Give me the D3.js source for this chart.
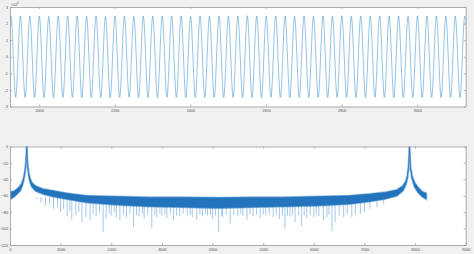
<!DOCTYPE html>
<html>
<head>
<meta charset="utf-8">
<script src="https://cdn.jsdelivr.net/npm/d3@7"></script>
<style>
body { margin: 0; background: #f0f0f0; }
svg { display: block; font-family: "Liberation Sans", Arial, sans-serif; }
</style>
</head>
<body>
<svg id="fig" width="474" height="254"></svg>
<script>
// ---- top plot: time signal, extrema ----
var waveX = [1913, 1925.5, 1938, 1950.5, 1963, 1975.5, 1988, 2000.5, 2013, 2025.5,
	2038, 2050.5, 2063, 2075.5, 2088, 2100.5, 2113, 2125.5, 2138, 2150.5,
	2163, 2175.5, 2188, 2200.5, 2213, 2225.5, 2238, 2250.5, 2263, 2275.5,
	2288, 2300.5, 2313, 2325.5, 2338, 2350.5, 2363, 2375.5, 2388, 2400.5,
	2413, 2425.5, 2438, 2450.5, 2463, 2475.5, 2488, 2500.5, 2513, 2525.5,
	2538, 2550.5, 2563, 2575.5, 2588, 2600.5, 2613, 2625.5, 2638, 2650.5,
	2663, 2675.5, 2688, 2700.5, 2713, 2725.5, 2738, 2750.5, 2763, 2775.5,
	2788, 2800.5, 2813, 2825.5, 2838, 2850.5, 2863, 2875.5, 2888, 2900.5,
	2913, 2925.5, 2938, 2950.5, 2963, 2975.5, 2988, 3000.5, 3013, 3025.5,
	3038, 3050.5, 3063, 3075.5, 3088, 3100.5, 3113, 3125.5, 3138];
var waveY = [-24500, 24600, -24400, 24600, -24500, 24500, -24600, 24600, -24500, 24400,
	-24500, 24600, -24500, 24500, -24400, 24600, -24600, 24500, -24500, 24600,
	-24500, 24400, -24600, 24600, -24500, 24500, -24400, 24300, -24500, 24600,
	-24600, 24500, -24500, 24600, -24400, 24500, -24500, 24600, -24600, 24400,
	-24500, 24600, -24500, 24500, -24400, 24600, -24600, 24500, -24500, 24600,
	-24500, 24700, -24600, 24600, -24500, 24500, -24400, 24600, -24500, 24500,
	-24600, 24400, -24500, 24600, -24500, 24500, -24400, 24600, -24600, 24500,
	-24500, 24600, -24500, 24400, -24600, 24600, -24500, 24500, -24400, 24600,
	-24500, 24500, -24600, 24600, -24500, 24400, -24500, 24600, -24500, 24500,
	-24400, 24600, -24600, 24500, -24500, 24600, -24500, 24500, -24500];
var sigXTicks = [2000, 2200, 2400, 2600, 2800, 3000];
var sigYTicks = [-30000, -20000, -10000, 0, 10000, 20000, 30000];

// ---- bottom plot: spectrum (dB) vs bin, as noise band + dips ----
var specBins = [0, 60, 120, 200, 240, 270, 295, 310, 320, 326,
	330, 334, 340, 350, 365, 390, 430, 500, 660, 850,
	1120, 1500, 2100, 2770, 3500, 4110, 4700, 5400, 6100, 6700,
	7100, 7400, 7640, 7760, 7820, 7850, 7870, 7884, 7890, 7896,
	7910, 7940, 7990, 8060, 8140, 8220];
var specHi = [-55, -55, -53, -48, -44, -38, -30, -22, -14, -6,
	2, -6, -14, -22, -30, -38, -44, -48, -52, -54,
	-57, -60, -61, -62, -62, -62.5, -62, -62, -61, -60,
	-58, -56, -53, -48, -42, -35, -25, -10, 2, -10,
	-25, -36, -44, -50, -55, -57];
var specLo = [-64, -62, -59, -54, -48, -41, -32, -24, -15, -7,
	2, -7, -15, -24, -33, -42, -49, -54, -58, -61,
	-64, -68, -71, -73, -74, -75, -74, -73, -72, -70,
	-67, -64, -60, -54, -46, -38, -27, -11, 2, -11,
	-27, -39, -49, -56, -61, -64];
var dipBins = [520, 610, 700, 780, 860, 940, 1000, 1060, 1130, 1180,
	1220, 1300, 1360, 1420, 1500, 1580, 1640, 1700, 1770, 1840,
	1900, 1960, 2000, 2060, 2100, 2170, 2240, 2300, 2370, 2440,
	2500, 2550, 2620, 2650, 2720, 2800, 2860, 2900, 2960, 3000,
	3060, 3100, 3170, 3230, 3290, 3350, 3420, 3500, 3560, 3600,
	3690, 3750, 3800, 3860, 3900, 3960, 4000, 4060, 4120, 4180,
	4200, 4270, 4350, 4420, 4500, 4560, 4600, 4680, 4740, 4800,
	4870, 4940, 5000, 5050, 5120, 5200, 5260, 5320, 5380, 5430,
	5480, 5530, 5580, 5630, 5700, 5760, 5810, 5860, 5930, 6000,
	6050, 6100, 6190, 6260, 6300, 6360, 6420, 6500, 6590, 6660,
	6750, 6820, 6920, 7000, 7110, 7250, 7380];
var dipDb = [-64, -68, -72, -70, -76, -74, -80, -76, -85, -78,
	-89, -84, -80, -92, -86, -90, -82, -85, -81, -104,
	-88, -82, -84, -80, -87, -90, -83, -86, -82, -98,
	-84, -85, -82, -88, -83, -99, -84, -86, -82, -84,
	-83, -87, -82, -90, -84, -85, -82, -84, -83, -86,
	-89, -83, -85, -82, -84, -83, -88, -84, -104, -85,
	-86, -83, -94, -84, -85, -82, -84, -89, -83, -85,
	-83, -87, -83, -84, -82, -86, -83, -88, -84, -100,
	-84, -85, -83, -92, -84, -97, -84, -87, -83, -86,
	-83, -85, -90, -86, -83, -103, -92, -84, -86, -82,
	-86, -83, -82, -80, -76, -74, -70];
var fftXTicks = [0, 1000, 2000, 3000, 4000, 5000, 6000, 7000, 8000, 9000];
var fftYTicks = [-120, -100, -80, -60, -40, -20, 0];

var svg = d3.select("#fig");
var axisCol = "#9a9a9a", textCol = "#505050";

function drawAxes(g, x, y, xt, yt, yfmt) {
	var w = x.range()[1] - x.range()[0], h = y.range()[0] - y.range()[1];
	g.append("g").attr("transform", "translate(0," + h + ")")
		.call(d3.axisBottom(x).tickValues(xt).tickSizeInner(-2).tickSizeOuter(0).tickPadding(3)
			.tickFormat(d3.format("d")));
	g.append("g")
		.call(d3.axisTop(x).tickValues(xt).tickSizeInner(-2).tickSizeOuter(0).tickFormat(""));
	g.append("g")
		.call(d3.axisLeft(y).tickValues(yt).tickSizeInner(-2).tickSizeOuter(0).tickPadding(2).tickFormat(yfmt));
	g.append("g").attr("transform", "translate(" + w + ",0)")
		.call(d3.axisRight(y).tickValues(yt).tickSizeInner(-2).tickSizeOuter(0).tickFormat(""));
	g.selectAll(".domain, .tick line").attr("stroke", axisCol).attr("stroke-width", 0.8);
	g.selectAll(".tick text").attr("fill", textCol).attr("font-size", "3.8px");
}

// ---------- top axes ----------
var t = {l: 10, r: 465.7, t: 7, b: 106.5};
var gT = svg.append("g").attr("transform", "translate(" + t.l + "," + t.t + ")");
var xT = d3.scaleLinear().domain([1923, 3128]).range([0, t.r - t.l]);
var yT = d3.scaleLinear().domain([-30000, 30000]).range([t.b - t.t, 0]);

gT.append("rect").attr("width", t.r - t.l).attr("height", t.b - t.t).attr("fill", "#fff");
svg.append("clipPath").attr("id", "clipT").append("rect")
	.attr("width", t.r - t.l).attr("height", t.b - t.t);

var wave = waveX.map(function(d, i) { return [d, waveY[i]]; });
gT.append("path")
	.datum(wave)
	.attr("clip-path", "url(#clipT)")
	.attr("fill", "none")
	.attr("stroke", "#0072BD")
	.attr("stroke-opacity", 0.42)
	.attr("stroke-width", 1)
	.attr("d", d3.line().x(function(d) { return xT(d[0]); }).y(function(d) { return yT(d[1]); })
		.curve(d3.curveMonotoneX));

drawAxes(gT, xT, yT, sigXTicks, sigYTicks, function(d) { return d / 10000; });

// exponent label
var ex = svg.append("text").attr("x", 11).attr("y", 5.6).attr("fill", textCol).attr("font-size", "3.6px");
ex.append("tspan").text("\u00d710");
ex.append("tspan").attr("dy", -1.4).attr("font-size", "2.6px").text("4");

// ---------- bottom axes ----------
var b = {l: 10, r: 465.7, t: 146.5, b: 245};
var gB = svg.append("g").attr("transform", "translate(" + b.l + "," + b.t + ")");
var xB = d3.scaleLinear().domain([0, 9000]).range([0, b.r - b.l]);
var yB = d3.scaleLinear().domain([-120, 0]).range([b.b - b.t, 0]);

gB.append("rect").attr("width", b.r - b.l).attr("height", b.b - b.t).attr("fill", "#fff");
svg.append("clipPath").attr("id", "clipB").append("rect")
	.attr("width", b.r - b.l).attr("height", b.b - b.t);

var plotB = gB.append("g").attr("clip-path", "url(#clipB)");

// dips below the noise floor
plotB.selectAll("line.dip")
	.data(dipBins)
	.enter()
	.append("line")
	.attr("class", "dip")
	.attr("x1", function(d) { return xB(d); })
	.attr("x2", function(d) { return xB(d); })
	.attr("y1", yB(-62))
	.attr("y2", function(d, i) { return yB(dipDb[i]); })
	.attr("stroke", "#62a3da")
	.attr("stroke-width", 0.6);

// dense noise band: fuzzy light edge, then solid core
var band = specBins.map(function(d, i) { return [d, specHi[i], specLo[i]]; });
var bandArea = d3.area()
	.x(function(d) { return xB(d[0]); })
	.y0(function(d) { return yB(d[2]); })
	.y1(function(d) { return yB(d[1]); });
plotB.append("path")
	.datum(band)
	.attr("fill", "#5a9dd6")
	.attr("stroke", "#5a9dd6")
	.attr("stroke-opacity", 0.6)
	.attr("stroke-width", 2.2)
	.attr("d", bandArea);
plotB.append("path")
	.datum(band)
	.attr("fill", "#2473bd")
	.attr("stroke", "#2473bd")
	.attr("stroke-width", 0.5)
	.attr("d", bandArea);

drawAxes(gB, xB, yB, fftXTicks, fftYTicks, d3.format("d"));
</script>
</body>
</html>
